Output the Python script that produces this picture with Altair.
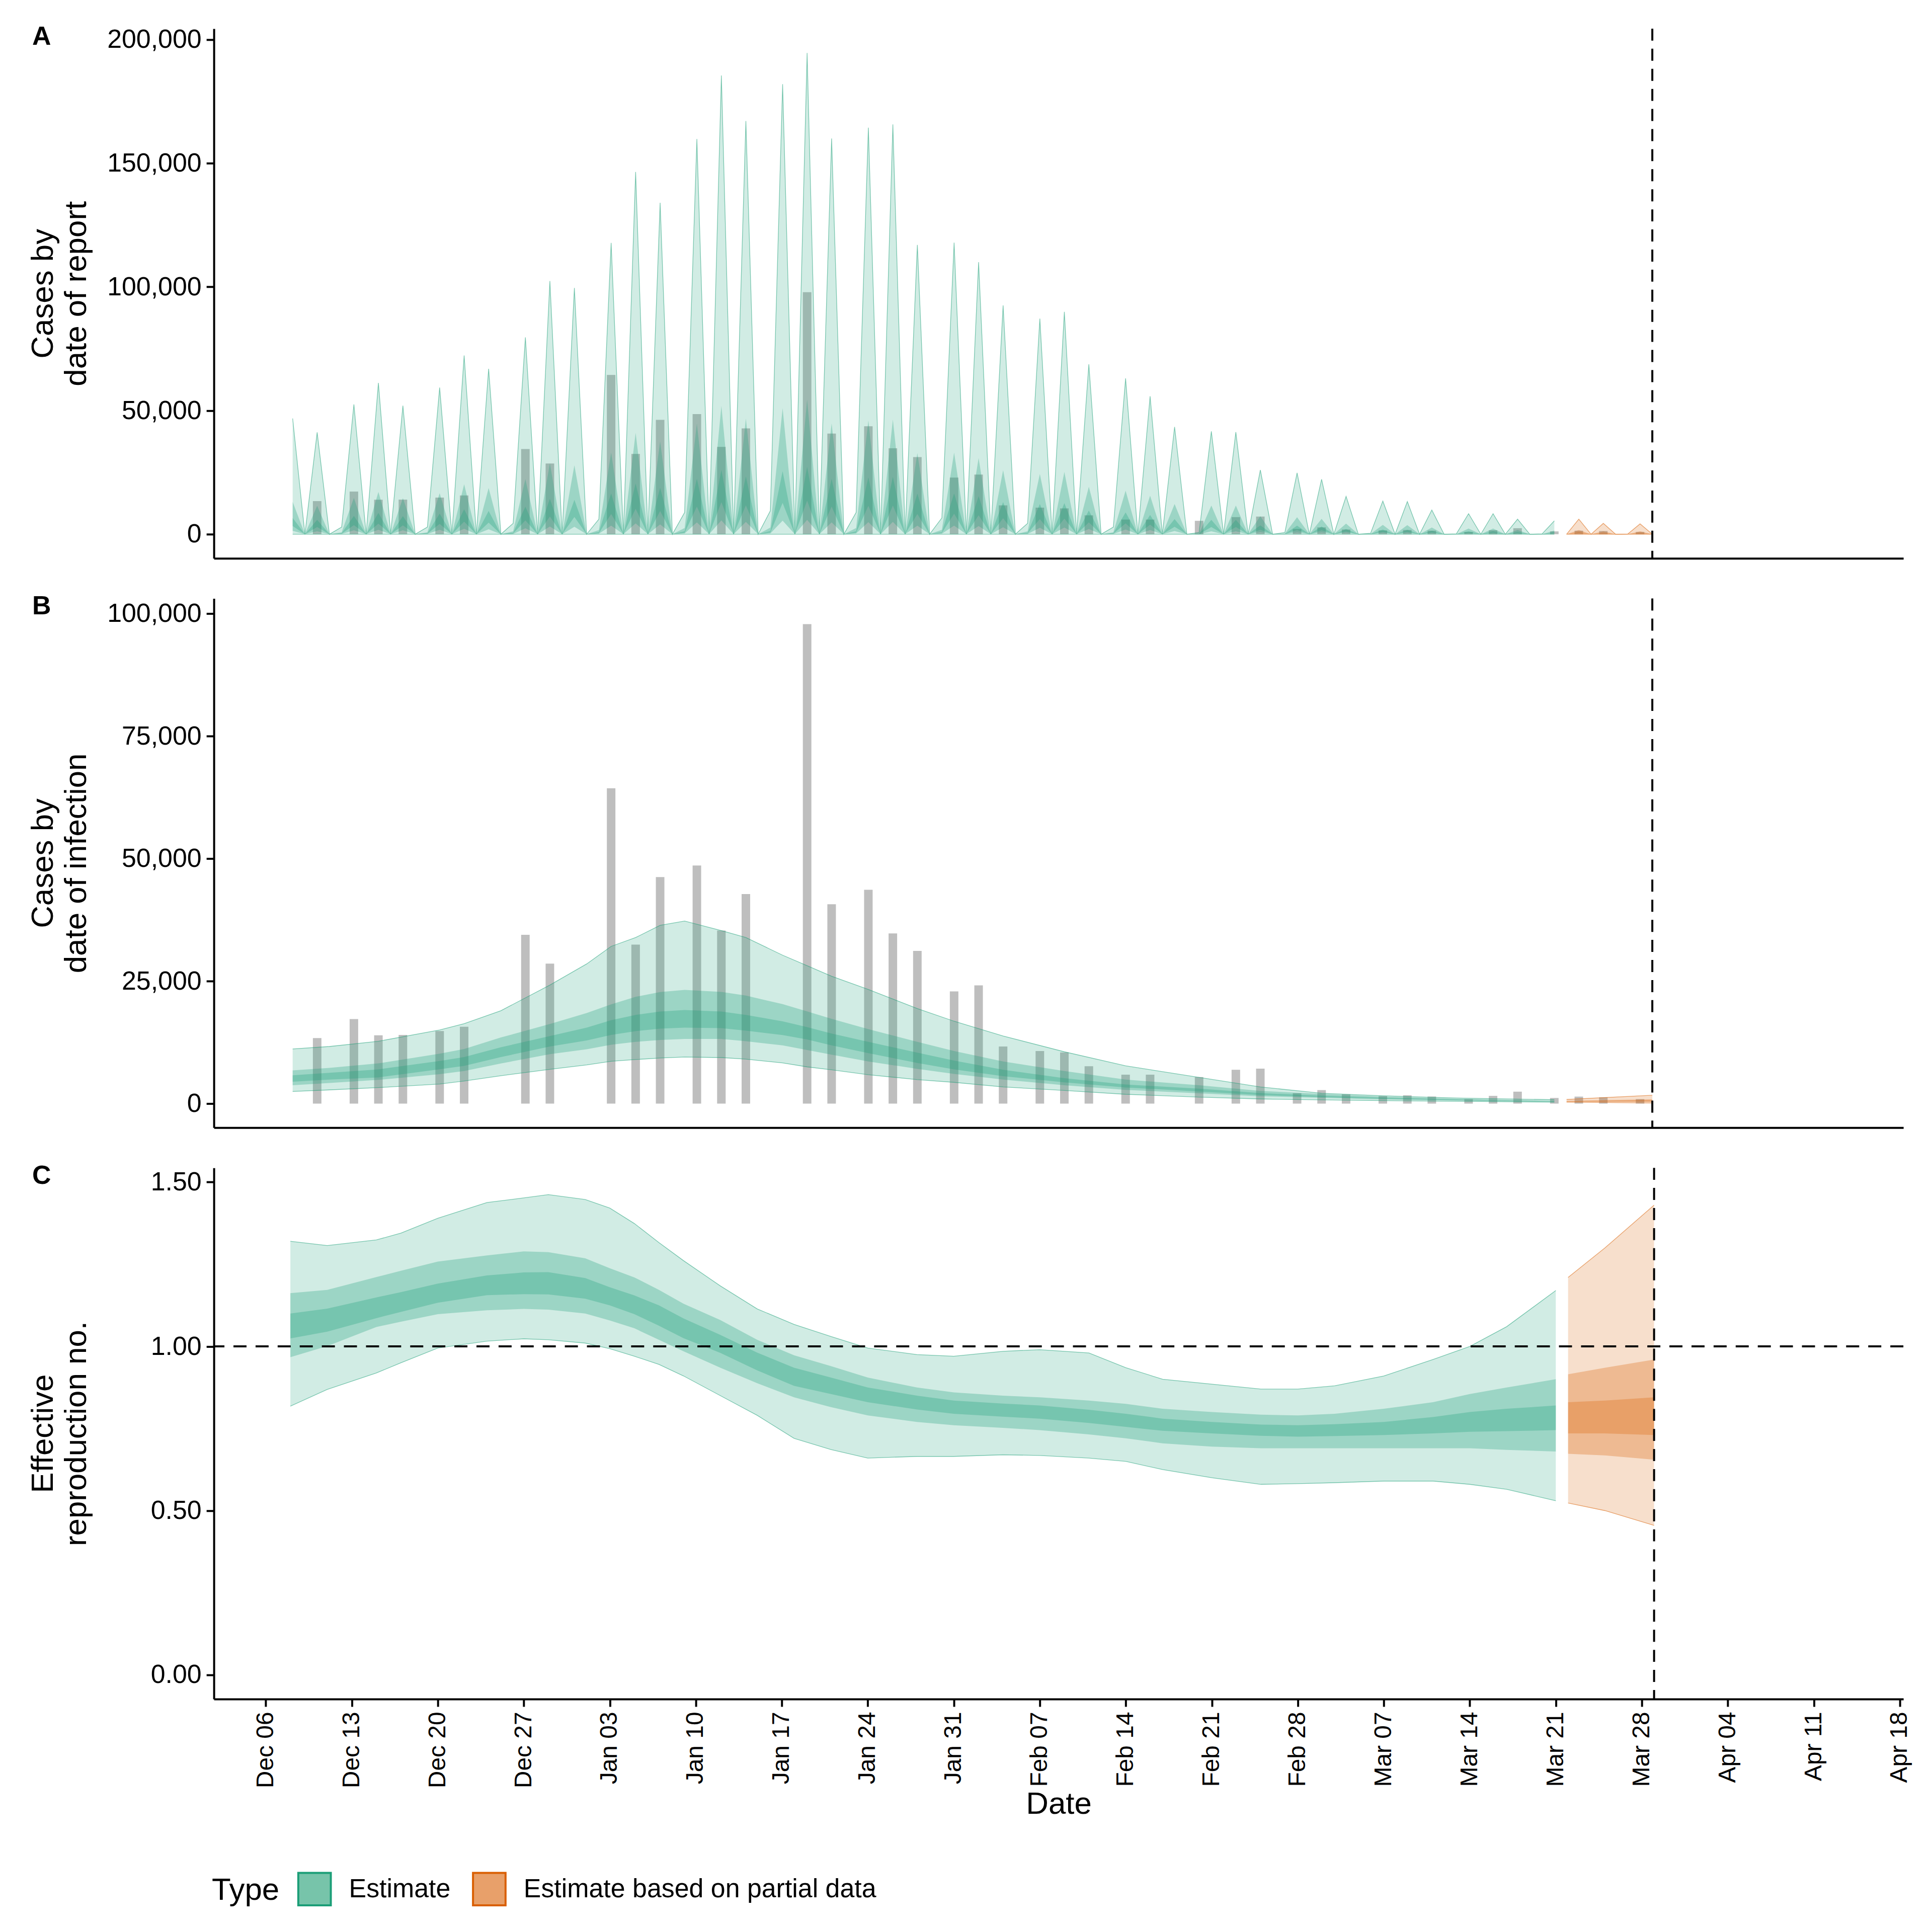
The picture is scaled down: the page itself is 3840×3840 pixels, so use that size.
import altair as alt
import pandas as pd

FONT = "Liberation Sans"
TYPE_NAMES = ["Estimate", "Estimate based on partial data"]
TYPE_COLORS = ["#1b9e77", "#d95f02"]
LEGEND_FILLS = ["#77c4aa", "#e8a06a"]

# Plot-area sizes of the three stacked panels (pixels)
W = 3365
H_A, H_B, H_C = 1055, 1054, 1058

# ---------------------------------------------------------------------------
# Weekly x-axis ticks
tick_dates = [
    "2020-12-06", "2020-12-13", "2020-12-20", "2020-12-27", "2021-01-03",
    "2021-01-10", "2021-01-17", "2021-01-24", "2021-01-31", "2021-02-07",
    "2021-02-14", "2021-02-21", "2021-02-28", "2021-03-07", "2021-03-14",
    "2021-03-21", "2021-03-28", "2021-04-04", "2021-04-11", "2021-04-18",
]
cutoff_dates = ["2021-03-29"]

# ---------------------------------------------------------------------------
# Observed reported cases (grey bars, panels A and B)
obs_dates = [
    "2020-12-10", "2020-12-13", "2020-12-15", "2020-12-17", "2020-12-20", "2020-12-22",
    "2020-12-27", "2020-12-29", "2021-01-03", "2021-01-05", "2021-01-07", "2021-01-10",
    "2021-01-12", "2021-01-14", "2021-01-19", "2021-01-21", "2021-01-24", "2021-01-26",
    "2021-01-28", "2021-01-31", "2021-02-02", "2021-02-04", "2021-02-07", "2021-02-09",
    "2021-02-11", "2021-02-14", "2021-02-16", "2021-02-20", "2021-02-23", "2021-02-25",
    "2021-02-28", "2021-03-02", "2021-03-04", "2021-03-07", "2021-03-09", "2021-03-11",
    "2021-03-14", "2021-03-16", "2021-03-18", "2021-03-21", "2021-03-23", "2021-03-25",
    "2021-03-28",
]
obs_cases = [
    13370, 17250, 13950, 14020, 14820, 15680,
    34460, 28580, 64380, 32450, 46230, 48600,
    35330, 42780, 97870, 40700, 43650, 34750,
    31170, 22910, 24130, 11660, 10730, 10440,
    7640, 5920, 5920, 5420, 6920, 7140,
    2120, 2760, 1900, 1540, 1700, 1450,
    920, 1580, 2440, 1150, 1430, 1290,
    920,
]

# ---------------------------------------------------------------------------
# Panel A: cases by date of report, daily credible intervals (thousands)
# Estimate: one value per day from 2020-12-08 (rows run Tue .. Mon)
report_start = "2020-12-08"
report_hi90 = [
    46.8, 0, 41.2, 0, 2.9, 52.5, 0,
    61.2, 0, 52.0, 0, 2.9, 59.3, 0,
    72.3, 0, 66.9, 0, 4.4, 79.6, 0,
    102.4, 0, 99.6, 0, 6.1, 117.8, 0,
    146.5, 0, 134.0, 0, 8.8, 159.8, 0,
    185.5, 0, 167.1, 0, 9.5, 182.0, 0,
    194.6, 0, 160.0, 0, 8.8, 164.4, 0,
    165.7, 0, 117.0, 0, 6.6, 117.9, 0,
    110.0, 0, 92.5, 0, 4.4, 87.2, 0,
    89.9, 0, 68.7, 0, 2.9, 63.0, 0,
    55.8, 0, 43.4, 0, 0.7, 41.6, 0,
    41.3, 0, 26.0, 0, 0.7, 24.8, 0,
    22.2, 0, 15.3, 0, 0.4, 13.4, 0,
    13.2, 0, 9.8, 0, 0.15, 8.3, 0,
    8.3, 0, 6.1, 0, 0.15, 5.4,
]
report_hi50 = [
    13.1, 0, 11.5, 0, 0.8, 14.7, 0,
    17.1, 0, 14.6, 0, 0.8, 16.6, 0,
    20.2, 0, 18.7, 0, 1.2, 22.3, 0,
    28.7, 0, 27.9, 0, 1.7, 33.0, 0,
    41.0, 0, 37.5, 0, 2.5, 44.7, 0,
    51.9, 0, 46.8, 0, 2.7, 51.0, 0,
    54.5, 0, 44.8, 0, 2.5, 46.0, 0,
    46.4, 0, 32.8, 0, 1.8, 33.0, 0,
    30.8, 0, 25.9, 0, 1.2, 24.4, 0,
    25.2, 0, 19.2, 0, 0.8, 17.6, 0,
    15.6, 0, 12.2, 0, 0.2, 11.6, 0,
    11.6, 0, 7.3, 0, 0.2, 6.9, 0,
    6.2, 0, 4.3, 0, 0.1, 3.8, 0,
    3.7, 0, 2.7, 0, 0.04, 2.3, 0,
    2.3, 0, 1.7, 0, 0.04, 1.5,
]
report_hi20 = [
    6.6, 0, 5.8, 0, 0.4, 7.4, 0,
    8.6, 0, 7.3, 0, 0.4, 8.3, 0,
    10.1, 0, 9.4, 0, 0.6, 11.1, 0,
    14.3, 0, 13.9, 0, 0.9, 16.5, 0,
    20.5, 0, 18.8, 0, 1.2, 22.4, 0,
    26.0, 0, 23.4, 0, 1.3, 25.5, 0,
    27.2, 0, 22.4, 0, 1.2, 23.0, 0,
    23.2, 0, 16.4, 0, 0.9, 16.5, 0,
    15.4, 0, 13.0, 0, 0.6, 12.2, 0,
    12.6, 0, 9.6, 0, 0.4, 8.8, 0,
    7.8, 0, 6.1, 0, 0.1, 5.8, 0,
    5.8, 0, 3.6, 0, 0.1, 3.5, 0,
    3.1, 0, 2.1, 0, 0.06, 1.9, 0,
    1.8, 0, 1.4, 0, 0.02, 1.2, 0,
    1.2, 0, 0.9, 0, 0.02, 0.8,
]
report_lo20 = [
    3.3, 0, 2.9, 0, 0.2, 3.7, 0,
    4.3, 0, 3.6, 0, 0.2, 4.2, 0,
    5.1, 0, 4.7, 0, 0.3, 5.6, 0,
    7.2, 0, 7.0, 0, 0.4, 8.2, 0,
    10.3, 0, 9.4, 0, 0.6, 11.2, 0,
    13.0, 0, 11.7, 0, 0.7, 12.7, 0,
    13.6, 0, 11.2, 0, 0.6, 11.5, 0,
    11.6, 0, 8.2, 0, 0.5, 8.3, 0,
    7.7, 0, 6.5, 0, 0.3, 6.1, 0,
    6.3, 0, 4.8, 0, 0.2, 4.4, 0,
    3.9, 0, 3.0, 0, 0.05, 2.9, 0,
    2.9, 0, 1.8, 0, 0.05, 1.7, 0,
    1.6, 0, 1.1, 0, 0.03, 0.9, 0,
    0.9, 0, 0.7, 0, 0.01, 0.6, 0,
    0.6, 0, 0.4, 0, 0.01, 0.4,
]
report_lo50 = [
    1.4, 0, 1.2, 0, 0.1, 1.6, 0,
    1.8, 0, 1.6, 0, 0.1, 1.8, 0,
    2.2, 0, 2.0, 0, 0.1, 2.4, 0,
    3.1, 0, 3.0, 0, 0.2, 3.5, 0,
    4.4, 0, 4.0, 0, 0.3, 4.8, 0,
    5.6, 0, 5.0, 0, 0.3, 5.5, 0,
    5.8, 0, 4.8, 0, 0.3, 4.9, 0,
    5.0, 0, 3.5, 0, 0.2, 3.5, 0,
    3.3, 0, 2.8, 0, 0.1, 2.6, 0,
    2.7, 0, 2.1, 0, 0.1, 1.9, 0,
    1.7, 0, 1.3, 0, 0.02, 1.2, 0,
    1.2, 0, 0.8, 0, 0.02, 0.7, 0,
    0.7, 0, 0.5, 0, 0.01, 0.4, 0,
    0.4, 0, 0.3, 0, 0, 0.2, 0,
    0.2, 0, 0.2, 0, 0, 0.2,
]
# Estimate based on partial data: daily from 2021-03-22 (Mon .. Mon)
partial_report_start = "2021-03-22"
partial_report_hi90 = [0, 6.1, 0, 4.4, 0, 0.1, 4.2, 0]
partial_report_hi50 = [0, 1.7, 0, 1.2, 0, 0.03, 1.2, 0]
partial_report_hi20 = [0, 0.9, 0, 0.6, 0, 0.01, 0.6, 0]
partial_report_lo20 = [0, 0.4, 0, 0.3, 0, 0, 0.3, 0]
partial_report_lo50 = [0, 0.2, 0, 0.1, 0, 0, 0.1, 0]

# ---------------------------------------------------------------------------
# Panel B: cases by date of infection (thousands)
inf_dates = [
    "2020-12-08", "2020-12-11", "2020-12-15", "2020-12-20", "2020-12-22", "2020-12-25",
    "2020-12-29", "2021-01-01", "2021-01-03", "2021-01-05", "2021-01-07", "2021-01-09",
    "2021-01-12", "2021-01-14", "2021-01-17", "2021-01-19", "2021-01-21", "2021-01-24",
    "2021-01-28", "2021-01-31", "2021-02-04", "2021-02-09", "2021-02-14", "2021-02-20",
    "2021-02-25", "2021-03-02", "2021-03-07", "2021-03-13", "2021-03-21",
]
inf_lo90 = [2.47, 2.8, 3.27, 4.0, 4.62, 5.7, 6.99, 7.9, 8.64, 9.0, 9.3, 9.51, 9.4, 9.07, 8.3,
            7.5, 6.9, 5.9, 4.9, 4.34, 3.4, 2.69, 1.9, 1.33, 0.95, 0.76, 0.6, 0.47, 0.3]
inf_hi90 = [11.16, 11.66, 12.73, 15.03, 16.32, 18.97, 24.2, 28.51, 32.1, 33.9, 36.4, 37.26,
            35.33, 33.9, 30.3, 28.15, 26.0, 23.3, 19.4, 16.82, 13.8, 10.58, 7.71, 5.35, 3.4,
            2.12, 1.6, 1.15, 0.8]
inf_lo50 = [3.76, 4.2, 4.85, 6.0, 6.64, 8.2, 10.08, 11.1, 12.01, 12.6, 13.0, 13.2, 13.2, 12.73,
            11.9, 10.94, 10.0, 8.6, 7.1, 6.06, 4.9, 3.76, 2.8, 2.12, 1.5, 1.19, 0.85, 0.62, 0.38]
inf_hi50 = [6.78, 7.3, 8.21, 10.2, 11.15, 13.5, 16.25, 18.5, 20.27, 21.8, 22.77, 23.2, 22.8,
            22.06, 20.3, 18.83, 17.3, 15.2, 12.6, 10.73, 8.6, 6.64, 4.9, 3.76, 2.6, 1.97, 1.45,
            0.98, 0.55]
inf_lo20 = [4.48, 4.9, 5.35, 7.0, 7.71, 9.5, 11.66, 12.9, 14.02, 14.8, 15.3, 15.5, 15.4, 14.89,
            14.0, 13.09, 11.9, 10.3, 8.3, 6.99, 5.6, 4.34, 3.3, 2.47, 1.75, 1.33, 1.0, 0.72, 0.42]
inf_hi20 = [5.78, 6.3, 6.99, 8.7, 9.51, 11.5, 13.8, 15.5, 17.03, 18.1, 18.8, 19.1, 18.8, 18.11,
            16.8, 15.6, 14.3, 12.6, 10.4, 8.78, 6.9, 5.2, 3.9, 3.05, 2.15, 1.62, 1.2, 0.88, 0.5]
partial_inf_dates = ["2021-03-22", "2021-03-29"]
partial_inf_lo90 = [0.3, 0.12]
partial_inf_hi90 = [0.85, 1.7]
partial_inf_lo50 = [0.38, 0.33]
partial_inf_hi50 = [0.56, 0.9]
partial_inf_lo20 = [0.42, 0.45]
partial_inf_hi20 = [0.5, 0.7]

# ---------------------------------------------------------------------------
# Panel C: effective reproduction number
r_dates = [
    "2020-12-08", "2020-12-11", "2020-12-15", "2020-12-17", "2020-12-20", "2020-12-24",
    "2020-12-27", "2020-12-29", "2021-01-01", "2021-01-03", "2021-01-05", "2021-01-07",
    "2021-01-09", "2021-01-12", "2021-01-15", "2021-01-18", "2021-01-21", "2021-01-24",
    "2021-01-28", "2021-01-31", "2021-02-04", "2021-02-07", "2021-02-11", "2021-02-14",
    "2021-02-17", "2021-02-21", "2021-02-25", "2021-02-28", "2021-03-03", "2021-03-07",
    "2021-03-11", "2021-03-14", "2021-03-17", "2021-03-21",
]
r_lo90 = [0.818, 0.869, 0.919, 0.950, 0.995, 1.016, 1.023, 1.020, 1.010, 0.993, 0.970, 0.945,
          0.910, 0.850, 0.790, 0.720, 0.686, 0.660, 0.665, 0.665, 0.670, 0.668, 0.660, 0.650,
          0.625, 0.600, 0.580, 0.582, 0.585, 0.590, 0.590, 0.580, 0.565, 0.530]
r_hi90 = [1.320, 1.307, 1.324, 1.345, 1.390, 1.438, 1.452, 1.462, 1.447, 1.421, 1.374, 1.316,
          1.261, 1.184, 1.114, 1.067, 1.030, 0.995, 0.975, 0.970, 0.985, 0.990, 0.980, 0.935,
          0.900, 0.885, 0.870, 0.870, 0.880, 0.910, 0.960, 1.000, 1.060, 1.170]
r_lo50 = [0.967, 1.001, 1.059, 1.075, 1.098, 1.110, 1.114, 1.112, 1.100, 1.079, 1.055, 1.020,
          0.985, 0.935, 0.888, 0.845, 0.815, 0.790, 0.770, 0.760, 0.752, 0.745, 0.732, 0.720,
          0.705, 0.695, 0.690, 0.690, 0.690, 0.690, 0.690, 0.690, 0.685, 0.680]
r_hi50 = [1.162, 1.172, 1.211, 1.230, 1.258, 1.277, 1.289, 1.287, 1.268, 1.238, 1.210, 1.172,
          1.130, 1.080, 1.020, 0.973, 0.940, 0.905, 0.875, 0.860, 0.850, 0.845, 0.835, 0.825,
          0.810, 0.800, 0.792, 0.790, 0.795, 0.810, 0.830, 0.855, 0.875, 0.900]
r_lo20 = [1.024, 1.045, 1.086, 1.105, 1.133, 1.156, 1.159, 1.158, 1.145, 1.125, 1.098, 1.063,
          1.025, 0.980, 0.927, 0.880, 0.855, 0.830, 0.808, 0.795, 0.786, 0.780, 0.767, 0.755,
          0.743, 0.735, 0.728, 0.725, 0.727, 0.730, 0.735, 0.740, 0.742, 0.745]
r_hi20 = [1.100, 1.115, 1.149, 1.165, 1.191, 1.216, 1.225, 1.226, 1.208, 1.180, 1.155, 1.125,
          1.085, 1.035, 0.981, 0.935, 0.905, 0.875, 0.850, 0.835, 0.826, 0.820, 0.807, 0.795,
          0.780, 0.770, 0.762, 0.760, 0.763, 0.770, 0.785, 0.800, 0.810, 0.820]
partial_r_dates = ["2021-03-22", "2021-03-25", "2021-03-29"]
partial_r_lo90 = [0.523, 0.500, 0.455]
partial_r_hi90 = [1.210, 1.300, 1.430]
partial_r_lo50 = [0.673, 0.668, 0.655]
partial_r_hi50 = [0.915, 0.935, 0.960]
partial_r_lo20 = [0.735, 0.735, 0.730]
partial_r_hi20 = [0.830, 0.835, 0.845]


# ---------------------------------------------------------------------------
def utc(s, hours=0, minutes=0):
    t = pd.Timestamp(s)
    return alt.DateTime(year=t.year, month=t.month, date=t.day,
                        hours=hours, minutes=minutes, utc=True)


def interval_frame(dates, kind, scale, **cols):
    df = pd.DataFrame({"date": list(dates), "type": kind})
    for name, values in cols.items():
        df[name] = [v * scale for v in values]
    return df


def daily_dates(start, n):
    return pd.date_range(start, periods=n, freq="D").strftime("%Y-%m-%d")


# Panel A table: the 90% interval starts from zero on every day
rep_est = interval_frame(daily_dates(report_start, len(report_hi90)), TYPE_NAMES[0], 1000,
                         hi90=report_hi90, hi50=report_hi50, hi20=report_hi20,
                         lo20=report_lo20, lo50=report_lo50)
rep_part = interval_frame(daily_dates(partial_report_start, len(partial_report_hi90)),
                          TYPE_NAMES[1], 1000,
                          hi90=partial_report_hi90, hi50=partial_report_hi50,
                          hi20=partial_report_hi20, lo20=partial_report_lo20,
                          lo50=partial_report_lo50)
report_df = pd.concat([rep_est, rep_part], ignore_index=True)
report_df["lo90"] = 0.0

infection_df = pd.concat([
    interval_frame(inf_dates, TYPE_NAMES[0], 1000, lo90=inf_lo90, hi90=inf_hi90,
                   lo50=inf_lo50, hi50=inf_hi50, lo20=inf_lo20, hi20=inf_hi20),
    interval_frame(partial_inf_dates, TYPE_NAMES[1], 1000, lo90=partial_inf_lo90,
                   hi90=partial_inf_hi90, lo50=partial_inf_lo50, hi50=partial_inf_hi50,
                   lo20=partial_inf_lo20, hi20=partial_inf_hi20),
], ignore_index=True)

r_df = pd.concat([
    interval_frame(r_dates, TYPE_NAMES[0], 1, lo90=r_lo90, hi90=r_hi90, lo50=r_lo50,
                   hi50=r_hi50, lo20=r_lo20, hi20=r_hi20),
    interval_frame(partial_r_dates, TYPE_NAMES[1], 1, lo90=partial_r_lo90, hi90=partial_r_hi90,
                   lo50=partial_r_lo50, hi50=partial_r_hi50, lo20=partial_r_lo20,
                   hi20=partial_r_hi20),
], ignore_index=True)

obs_df = pd.DataFrame({"date": obs_dates, "cases": obs_cases})
cutoff_df = pd.DataFrame({"date": cutoff_dates})

# ---------------------------------------------------------------------------
x_scale = alt.Scale(type="utc", domain=[utc("2020-12-01", 18, 35), utc("2021-04-18", 7, 0)])
# ribbon colours follow the (alphabetical) order of the type names
ribbon_scale = alt.Scale(range=TYPE_COLORS)

axis_x_plain = alt.Axis(labels=False, ticks=False, title=None, domain=True)
axis_x_dates = alt.Axis(values=[utc(d) for d in tick_dates], format="%b %d", labelAngle=270,
                        labelAlign="right", labelBaseline="middle", labelOverlap=False,
                        labelFontSize=48, title="Date", titlePadding=2)


def x_enc(axis):
    return alt.X("date:T", scale=x_scale, axis=axis, title=None)


def panel(df, y_scale, y_axis, x_axis, tag, height, with_bars=False, extra=()):
    def y(field):
        return alt.Y(f"{field}:Q", scale=y_scale, axis=y_axis)

    layers = []
    if with_bars:
        layers.append(
            alt.Chart(obs_df).mark_bar(size=17, color="#bebebe")
            .encode(x=x_enc(x_axis), y=alt.Y("cases:Q", scale=y_scale, axis=y_axis))
        )
    base = alt.Chart(df).encode(
        x=x_enc(x_axis), color=alt.Color("type:N", scale=ribbon_scale, legend=None)
    )
    layers += [
        base.mark_area(opacity=0.2).encode(y=y("lo90"), y2="hi90:Q"),
        base.mark_area(opacity=0.29).encode(y=y("lo50"), y2="hi50:Q"),
        base.mark_area(opacity=0.29).encode(y=y("lo20"), y2="hi20:Q"),
        base.mark_line(strokeWidth=1.3, opacity=0.55).encode(y=y("hi90")),
        base.mark_line(strokeWidth=1.3, opacity=0.55).encode(y=y("lo90")),
    ]
    layers += list(extra)
    layers.append(
        alt.Chart(cutoff_df).mark_rule(color="black", strokeWidth=4, strokeDash=[24, 16])
        .encode(x=x_enc(x_axis))
    )
    layers.append(
        alt.Chart(pd.DataFrame({"tag": [tag]}))
        .mark_text(font=FONT, fontSize=52, fontWeight="bold", align="center",
                   baseline="middle", color="black")
        .encode(x=alt.value(-343), y=alt.value(16), text="tag:N")
    )
    return alt.layer(*layers).properties(width=W, height=height)


def y_axis(values, fmt, title, height):
    return alt.Axis(values=values, format=fmt, title=title, titleX=-308, titleY=height / 2,
                    titleBaseline="bottom", titleLineHeight=66, titleAngle=270)


panel_a = panel(
    report_df,
    alt.Scale(domain=[-9735, 204435], nice=False, zero=False),
    y_axis([0, 50000, 100000, 150000, 200000], ",d", ["Cases by", "date of report"], H_A),
    axis_x_plain, "A", H_A, with_bars=True,
)
panel_b = panel(
    infection_df,
    alt.Scale(domain=[-4910, 103110], nice=False, zero=False),
    y_axis([0, 25000, 50000, 75000, 100000], ",d", ["Cases by", "date of infection"], H_B),
    axis_x_plain, "B", H_B, with_bars=True,
)

# The legend sits below panel C; its position is given from the top-left
# corner of panel A's plot area.
legend_props = dict(
    title="Type", orient="none", legendX=-4, legendY=3671, direction="horizontal",
    titleOrient="left", titleFont=FONT, titleFontSize=62, titleFontWeight="normal",
    titleColor="black", titlePadding=35, titleBaseline="middle",
    labelFont=FONT, labelFontSize=52, labelColor="black", labelOffset=34, labelLimit=2000,
    columnPadding=36, symbolType="square", symbolSize=4200, symbolStrokeWidth=4,
    symbolOpacity=1,
)
legend_layer = (
    alt.Chart(pd.DataFrame({"type": TYPE_NAMES}))
    .mark_point(shape="square", filled=True, opacity=0, strokeWidth=4)
    .encode(
        fill=alt.Fill("type:N", scale=alt.Scale(domain=TYPE_NAMES, range=LEGEND_FILLS),
                      legend=alt.Legend(**legend_props)),
        stroke=alt.Stroke("type:N", scale=alt.Scale(domain=TYPE_NAMES, range=TYPE_COLORS),
                          legend=alt.Legend(**legend_props)),
    )
)
r_one = (
    alt.Chart(pd.DataFrame({"r": [1.0]}))
    .mark_rule(color="black", strokeWidth=4, strokeDash=[26, 18])
    .encode(y=alt.Y("r:Q", scale=alt.Scale(domain=[-0.0735, 1.5435], nice=False, zero=False)))
)
panel_c = panel(
    r_df,
    alt.Scale(domain=[-0.0735, 1.5435], nice=False, zero=False),
    y_axis([0, 0.5, 1.0, 1.5], ".2f", ["Effective", "reproduction no."], H_C),
    axis_x_dates, "C", H_C, extra=(r_one, legend_layer),
)

chart = (
    alt.vconcat(panel_a, panel_b, panel_c, spacing=80, bounds="flush")
    .properties(padding={"left": 55, "top": 43, "right": 40, "bottom": 40})
    .configure_view(stroke=None)
    .configure_axis(
        domainColor="black", domainWidth=4, tickColor="black", tickWidth=4, tickSize=15,
        labelFont=FONT, labelFontSize=52, labelColor="black", labelPadding=10, labelLimit=0,
        titleFont=FONT, titleFontSize=62, titleFontWeight="normal", titleColor="black",
        grid=False,
    )
)

chart.save("out.html", embed_options={"renderer": "svg", "actions": False})
